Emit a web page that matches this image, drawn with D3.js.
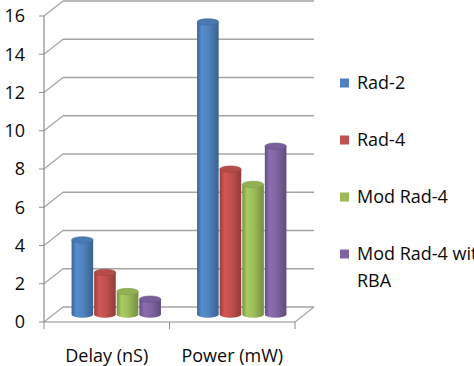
<!DOCTYPE html>
<html>
<head>
<meta charset="utf-8">
<script src="https://cdn.jsdelivr.net/npm/d3@7"></script>
<style>
  body { margin: 0; background: #fff; }
  svg { display: block; font-family: "Open Sans", sans-serif; }
</style>
</head>
<body>
<div id="chart"></div>
<script>
// donnees
var categories = ["Delay (nS)", "Power (mW)"];
var series = ["Rad-2", "Rad-4", "Mod Rad-4", "Mod Rad-4 with RBA"];
var rad2 = [3.9, 15.3];
var rad4 = [2.2, 7.6];
var modRad4 = [1.2, 6.8];
var modRad4Rba = [0.8, 8.8];
var yTicks = [0, 2, 4, 6, 8, 10, 12, 14, 16];
var couleurs = ["#4F81BD", "#C0504D", "#9BBB59", "#8064A2"];

var values = [rad2, rad4, modRad4, modRad4Rba];

var width = 474, height = 366;
// profondeur 3D (decalage vers le mur du fond)
var depthX = 19, depthY = -15;
var midX = depthX / 2, midY = depthY / 2;

var svg = d3.select("#chart").append("svg")
    .attr("width", width)
    .attr("height", height);

var y = d3.scaleLinear().domain([0, 16]).range([322, 16]);
var x0 = d3.scaleBand().domain(categories).range([44, 295])
    .paddingInner(0.28).paddingOuter(0.14);
var x1 = d3.scaleBand().domain(series).range([0, x0.bandwidth()]).padding(0.0);

var grid = "#a4a4a4";
var txt = "#0a0a0a";

// murs : lignes de grille
yTicks.forEach(function(t) {
    var yy = y(t);
    if (t > 0) {
        svg.append("line")
            .attr("x1", 44).attr("y1", yy)
            .attr("x2", 44 + depthX).attr("y2", yy + depthY)
            .attr("stroke", grid).attr("stroke-width", 1.2);
    }
    svg.append("line")
        .attr("x1", 44 + depthX).attr("y1", yy + depthY)
        .attr("x2", 295 + depthX).attr("y2", yy + depthY)
        .attr("stroke", grid).attr("stroke-width", 1.6);
});

// sol
svg.append("line")
    .attr("x1", 44).attr("y1", y(0)).attr("x2", 44 + depthX).attr("y2", y(0) + depthY)
    .attr("stroke", grid).attr("stroke-width", 1.2);
svg.append("line")
    .attr("x1", 295).attr("y1", y(0)).attr("x2", 295 + depthX).attr("y2", y(0) + depthY)
    .attr("stroke", grid).attr("stroke-width", 1.2);

// axe vertical avant
svg.append("line")
    .attr("x1", 44).attr("y1", y(16)).attr("x2", 44).attr("y2", y(0))
    .attr("stroke", "#8c8c8c").attr("stroke-width", 1.2);
svg.append("g").selectAll("line")
    .data(yTicks).enter().append("line")
    .attr("x1", 39).attr("x2", 44)
    .attr("y1", function(d) { return y(d); })
    .attr("y2", function(d) { return y(d); })
    .attr("stroke", "#8c8c8c");
svg.append("g").selectAll("text")
    .data(yTicks).enter().append("text")
    .attr("x", 25)
    .attr("y", function(d) { return y(d); })
    .attr("dy", "0.35em")
    .attr("text-anchor", "end")
    .style("font-size", "18px")
    .style("fill", txt)
    .text(function(d) { return d; });

// axe horizontal avant
svg.append("line")
    .attr("x1", 44).attr("y1", y(0)).attr("x2", 295).attr("y2", y(0))
    .attr("stroke", "#8c8c8c").attr("stroke-width", 1.2);
var catTicks = [44, x0(categories[1]) - x0.step() * x0.paddingInner() / 2, 295];
svg.append("g").selectAll("line")
    .data(catTicks).enter().append("line")
    .attr("x1", function(d) { return d; }).attr("x2", function(d) { return d; })
    .attr("y1", y(0)).attr("y2", y(0) + 7)
    .attr("stroke", "#8c8c8c");
svg.append("g").selectAll("text")
    .data(categories).enter().append("text")
    .attr("x", function(d) { return x0(d) + x0.bandwidth() / 2; })
    .attr("y", 362)
    .attr("text-anchor", "middle")
    .style("font-size", "18px")
    .style("fill", txt)
    .text(function(d) { return d; });

// degrades des cylindres
var defs = svg.append("defs");
couleurs.forEach(function(c, i) {
    var g = defs.append("linearGradient").attr("id", "cyl" + i)
        .attr("x1", "0%").attr("x2", "100%").attr("y1", "0%").attr("y2", "0%");
    var base = d3.color(c);
    g.append("stop").attr("offset", "0%").attr("stop-color", base.darker(0.7));
    g.append("stop").attr("offset", "22%").attr("stop-color", base.brighter(0.25));
    g.append("stop").attr("offset", "55%").attr("stop-color", base);
    g.append("stop").attr("offset", "100%").attr("stop-color", base.darker(0.8));
});

// cylindres
var ry = 3.2;
var barData = [];
categories.forEach(function(cat, ci) {
    series.forEach(function(s, si) {
        barData.push({ cat: cat, serie: s, si: si, value: values[si][ci] });
    });
});

var bars = svg.append("g").selectAll("g")
    .data(barData).enter().append("g");

function bx(d) { return x0(d.cat) + x1(d.serie) + midX; }
var bw = x1.bandwidth();

bars.append("ellipse")
    .attr("cx", function(d) { return bx(d) + bw / 2; })
    .attr("cy", y(0) + midY)
    .attr("rx", bw / 2 - 0.5).attr("ry", ry)
    .attr("fill", function(d) { return "url(#cyl" + d.si + ")"; });
bars.append("rect")
    .attr("x", function(d) { return bx(d) + 0.5; })
    .attr("width", bw - 1)
    .attr("y", function(d) { return y(d.value) + midY; })
    .attr("height", function(d) { return y(0) - y(d.value); })
    .attr("fill", function(d) { return "url(#cyl" + d.si + ")"; });
bars.append("ellipse")
    .attr("cx", function(d) { return bx(d) + bw / 2; })
    .attr("cy", function(d) { return y(d.value) + midY; })
    .attr("rx", bw / 2 - 0.5).attr("ry", ry)
    .attr("fill", function(d) { return d3.color(couleurs[d.si]).darker(0.15); })
    .attr("stroke", function(d) { return d3.color(couleurs[d.si]).darker(0.6); })
    .attr("stroke-width", 0.6);

// legende
var legendY = [83, 140, 197, 254];
var legend = svg.append("g").selectAll("g")
    .data(series).enter().append("g")
    .attr("transform", function(d, i) { return "translate(340," + legendY[i] + ")"; });
legend.append("rect")
    .attr("x", 0).attr("y", -4.5).attr("width", 9).attr("height", 9)
    .attr("fill", function(d, i) { return couleurs[i]; });
legend.append("text")
    .attr("x", 17).attr("y", 0).attr("dy", "0.35em")
    .style("font-size", "18px")
    .style("fill", txt)
    .each(function(d) {
        var t = d3.select(this);
        if (d === "Mod Rad-4 with RBA") {
            t.append("tspan").attr("x", 17).text("Mod Rad-4 with");
            t.append("tspan").attr("x", 17).attr("dy", "1.5em").text("RBA");
        } else {
            t.text(d);
        }
    });
</script>
</body>
</html>
